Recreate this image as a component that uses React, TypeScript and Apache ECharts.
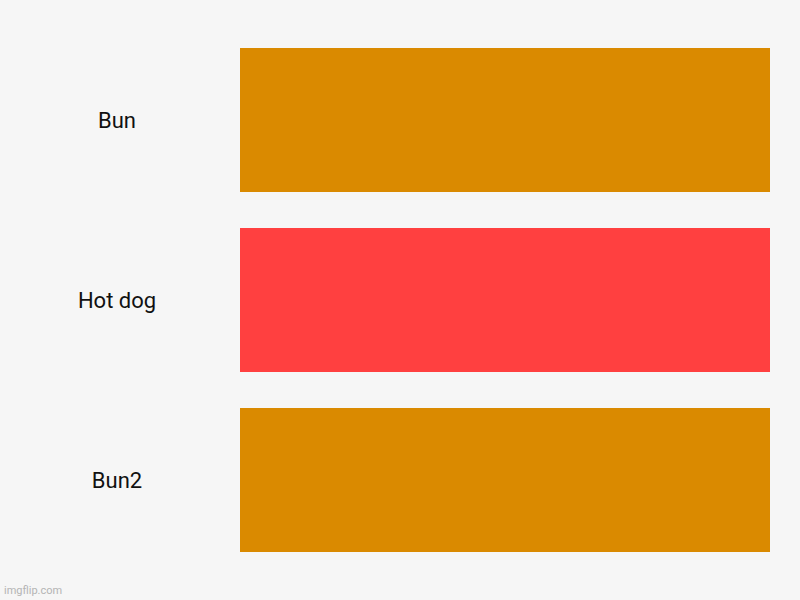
import { useEffect, useRef } from 'react';
import * as echarts from 'echarts';

const categories = ['Bun', 'Hot dog', 'Bun2'];
const values = [1, 1, 1];
const colors = ['#da8a00', '#ff4040', '#da8a00'];

export default function App() {
  const ref = useRef<HTMLDivElement>(null);

  useEffect(() => {
    if (!ref.current) return;
    const chart = echarts.init(ref.current, null, { renderer: 'svg' });
    chart.setOption({
      animation: false,
      backgroundColor: '#f6f6f6',
      grid: { left: 240, right: 30, top: 30, bottom: 30 },
      xAxis: {
        type: 'value',
        min: 0,
        max: 1,
        show: false,
      },
      yAxis: {
        type: 'category',
        data: categories,
        inverse: true,
        axisLine: { show: false },
        axisTick: { show: false },
        axisLabel: {
          align: 'center',
          margin: 123,
          color: '#111111',
          fontSize: 22,
          padding: [4, 0, 0, 0],
          fontFamily: 'Roboto, sans-serif',
        },
      },
      series: [
        {
          type: 'bar',
          barCategoryGap: '20%',
          data: values.map((v, i) => ({ value: v, itemStyle: { color: colors[i] } })),
        },
      ],
      graphic: [
        {
          type: 'text',
          left: 4,
          top: 585,
          style: {
            text: 'imgflip.com',
            fill: '#b4b4b4',
            fontSize: 11,
            fontFamily: 'Roboto, sans-serif',
          },
        },
      ],
    });
    return () => chart.dispose();
  }, []);

  return <div ref={ref} style={{ position: 'fixed', left: 0, top: 0, width: 800, height: 600 }} />;
}
